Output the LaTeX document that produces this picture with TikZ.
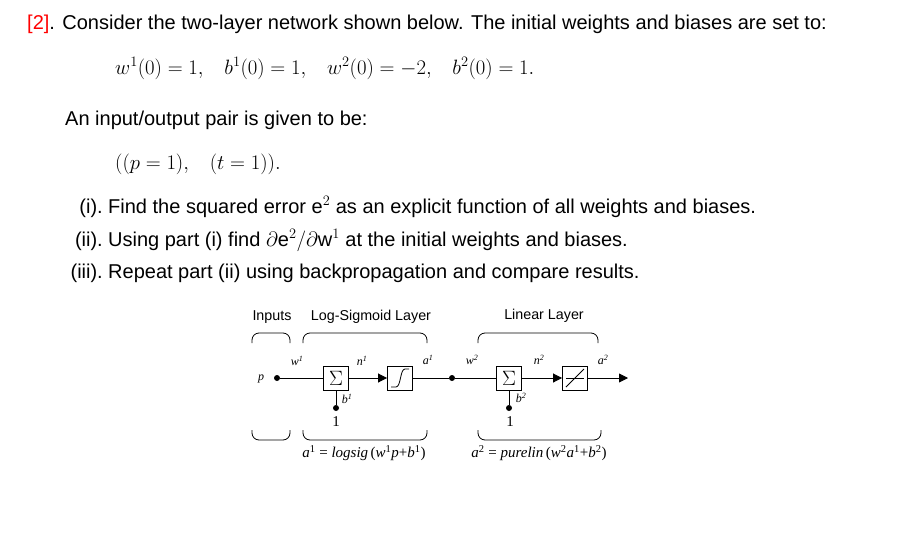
\documentclass[tikz,border=0pt]{standalone}
\usepackage{fontspec}
\setmainfont{Liberation Sans}
\newfontfamily\tms{Liberation Serif}
\usetikzlibrary{arrows.meta}
\begin{document}
\begin{tikzpicture}[x=1pt,y=-1pt,
  txt/.style={anchor=west,inner sep=0pt,font=\fontsize{20}{24}\selectfont},
  lab/.style={inner sep=0pt,font=\fontsize{14.3}{17}\selectfont},
  sm/.style={inner sep=0pt,font=\tms\itshape\fontsize{12}{14}\selectfont},
  eq/.style={inner sep=0pt,font=\tms\fontsize{15}{18}\selectfont},
  blk/.style={draw,line width=0.9pt,minimum width=25pt,minimum height=24pt,inner sep=0pt,font=\fontsize{20}{22}\selectfont},
  dot/.style={circle,fill,inner sep=0pt,minimum size=6pt},
  brk/.style={line width=0.8pt,rounded corners=7pt},
  wire/.style={line width=0.9pt},
  arr/.style={wire,-{Triangle[length=9pt,width=9pt]}}]
\useasboundingbox (0,0) rectangle (906,536);
\node[txt,anchor=base west] (q) at (27,29) {\textcolor{red}{[2]}. Consider the two-layer network shown below. The initial weights and biases are set to:};
\node[txt,anchor=base west] (m1) at (115,74) {$w^1(0)=1,\;\;\; b^1(0)=1,\;\;\; w^2(0)=-2,\;\;\; b^2(0)=1.$};
\node[txt,anchor=base west] (io) at (65,125) {An input/output pair is given to be:};
\node[txt,anchor=base west] (m2) at (115,169) {$((p=1),\;\;\; (t=1)).$};
\node[txt,anchor=base east] (l1) at (103,213) {(i).};
\node[txt,anchor=base west] (t1) at (108,213) {Find the squared error $\mathrm{e}^2$ as an explicit function of all weights and biases.};
\node[txt,anchor=base east] (l2) at (103,246) {(ii).};
\node[txt,anchor=base west] (t2) at (108,246) {Using part (i) find $\partial\mathrm{e}^2/\partial\mathrm{w}^1$ at the initial weights and biases.};
\node[txt,anchor=base east] (l3) at (103,278) {(iii).};
\node[txt,anchor=base west] (t3) at (108,278) {Repeat part (ii) using backpropagation and compare results.};
% diagram labels
\node[lab] (inp) at (272,317) {Inputs};
\node[lab] (lsl) at (371,317) {Log-Sigmoid Layer};
\node[lab] (ll) at (544,316) {Linear Layer};
% brackets
\draw[brk] (252,343) -- (252,333) -- (290,333) -- (290,343);
\draw[brk] (303,343) -- (303,333) -- (427,333) -- (427,343);
\draw[brk] (478,343) -- (478,333) -- (598,333) -- (598,343);
\draw[brk] (252,430) -- (252,440) -- (290,440) -- (290,430);
\draw[brk] (303,430) -- (303,440) -- (427,440) -- (427,430);
\draw[brk] (478,430) -- (478,440) -- (601,440) -- (601,430);
% nodes
\node[sm] (p) at (261,379) {p};
\node[dot] (pd) at (277,378) {};
\node[blk] (s1) at (336,378) {$\Sigma$};
\node[blk] (f1) at (400,378) {};
\draw[line width=0.8pt] (391,387) -- (396,387) .. controls (401,387) and (400,369) .. (405,369) -- (409,369);
\node[dot] (ad) at (452,378) {};
\node[blk] (s2) at (509,378) {$\Sigma$};
\node[blk] (f2) at (575,378) {};
\draw[line width=0.8pt] (566,378) -- (584,378);
\draw[line width=0.8pt] (566,387) -- (584,369);
\coordinate (out) at (628,378);
\node[dot] (b1d) at (336,408) {};
\node[dot] (b2d) at (509,408) {};
\node[eq] (one1) at (336,422) {1};
\node[eq] (one2) at (510,422) {1};
\draw[wire] (pd) -- (s1);
\draw[arr] (s1) -- (f1);
\draw[wire] (f1) -- (ad);
\draw[wire] (ad) -- (s2);
\draw[arr] (s2) -- (f2);
\draw[arr] (f2) -- (out);
\draw[wire] (s1) -- (b1d);
\draw[wire] (s2) -- (b2d);
\node[sm] (w1) at (297,361) {w\textsuperscript{1}};
\node[sm] (n1) at (362,361) {n\textsuperscript{1}};
\node[sm] (a1) at (428,360) {a\textsuperscript{1}};
\node[sm] (w2) at (472,360) {w\textsuperscript{2}};
\node[sm] (n2) at (539,360) {n\textsuperscript{2}};
\node[sm] (a2) at (603,360) {a\textsuperscript{2}};
\node[sm] (b1) at (347,399) {b\textsuperscript{1}};
\node[sm] (b2) at (521,398) {b\textsuperscript{2}};
\node[eq] (e1) at (364,453) {\textit{a}\textsuperscript{1} = \textit{logsig}\,(\textit{w}\textsuperscript{1}\textit{p}+\textit{b}\textsuperscript{1})};
\node[eq] (e2) at (539,453) {\textit{a}\textsuperscript{2} = \textit{purelin}\,(\textit{w}\textsuperscript{2}\textit{a}\textsuperscript{1}+\textit{b}\textsuperscript{2})};
\end{tikzpicture}
\end{document}
